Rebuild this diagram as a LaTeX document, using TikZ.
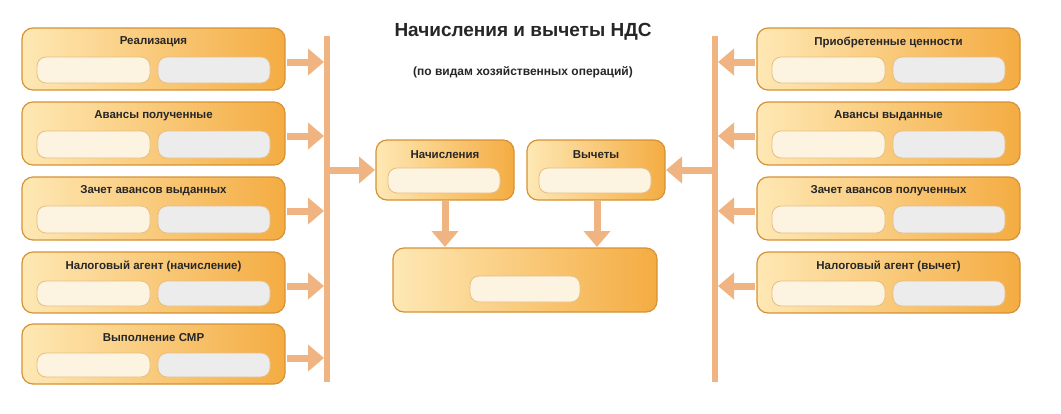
\documentclass[tikz,border=0pt]{standalone}
\usepackage{fontspec}
\setmainfont{Liberation Sans}
\usetikzlibrary{arrows.meta}
\definecolor{boxL}{RGB}{254,232,180}
\definecolor{boxR}{RGB}{244,172,66}
\definecolor{boxB}{RGB}{214,146,52}
\definecolor{pillA}{RGB}{252,243,224}
\definecolor{pillB}{RGB}{236,236,236}
\definecolor{arr}{RGB}{240,180,130}
\tikzset{
 obox/.style={draw=boxB,line width=1.2pt,rounded corners=11pt,left color=boxL,right color=boxR},
 pilla/.style={draw=boxB!60,line width=0.8pt,rounded corners=9pt,fill=pillA},
 pillb/.style={draw=boxB!60,line width=0.8pt,rounded corners=9pt,fill=pillB},
 lbl/.style={font=\bfseries\fontsize{11.5}{13}\selectfont,text=black!85},
 bar/.style={draw=arr,line width=6pt},
 harr/.style={draw=arr,line width=7pt,-{Triangle[width=26pt,length=16pt]}},
}
\begin{document}
\begin{tikzpicture}[x=1pt,y=-1pt]
\useasboundingbox (0,0) rectangle (1061,413);
\node[font=\bfseries\fontsize{19}{22}\selectfont,text=black!85] (t) at (523,32) {Начисления и вычеты НДС};
\node[font=\bfseries\fontsize{12}{14}\selectfont,text=black!85] (st) at (523,72) {(по видам хозяйственных операций)};
\coordinate (lt) at (327,36); \coordinate (lb) at (327,382);
\coordinate (rt) at (715,36); \coordinate (rb) at (715,382);
\draw[bar] (lt) -- (lb);
\draw[bar] (rt) -- (rb);
\foreach \i/\ya/\yb/\txt in {1/28/90/Реализация,2/102/165/Авансы полученные,3/177/240/Зачет авансов выданных,4/252/313/Налоговый агент (начисление),5/324/384/Выполнение СМР}{
  \draw[obox] (22,\ya) rectangle (285,\yb);
  \node[lbl] (L\i) at (153.5,\ya+14) {\txt};
  \draw[pilla] (37,\ya+29) rectangle (150,\yb-7);
  \draw[pillb] (158,\ya+29) rectangle (270,\yb-7);
  \coordinate (Ls\i) at (287,\ya+34);
  \coordinate (Le\i) at (324,\ya+34);
  \draw[harr] (Ls\i) -- (Le\i);
}
\foreach \i/\ya/\yb/\txt in {1/28/90/Приобретенные ценности,2/102/165/Авансы выданные,3/177/240/Зачет авансов полученных,4/252/313/Налоговый агент (вычет)}{
  \draw[obox] (757,\ya) rectangle (1020,\yb);
  \node[lbl] (R\i) at (888.5,\ya+14) {\txt};
  \draw[pilla] (772,\ya+29) rectangle (885,\yb-7);
  \draw[pillb] (893,\ya+29) rectangle (1005,\yb-7);
  \coordinate (Rs\i) at (755,\ya+34);
  \coordinate (Re\i) at (718,\ya+34);
  \draw[harr] (Rs\i) -- (Re\i);
}
\draw[obox] (376,140) rectangle (514,200);
\node[lbl] (nach) at (445,155) {Начисления};
\draw[pilla] (388,168) rectangle (500,193);
\draw[obox] (527,140) rectangle (665,200);
\node[lbl] (vych) at (596,155) {Вычеты};
\draw[pilla] (539,168) rectangle (651,193);
\draw[obox] (393,248) rectangle (657,312);
\draw[pilla] (470,276) rectangle (580,302);
\coordinate (c1) at (330,170); \coordinate (c2) at (375,170);
\coordinate (c3) at (712,170); \coordinate (c4) at (666,170);
\draw[harr] (c1) -- (c2);
\draw[harr] (c3) -- (c4);
\coordinate (d1) at (445,201); \coordinate (d2) at (445,247);
\coordinate (d3) at (597,201); \coordinate (d4) at (597,247);
\draw[harr] (d1) -- (d2);
\draw[harr] (d3) -- (d4);
\end{tikzpicture}
\end{document}
